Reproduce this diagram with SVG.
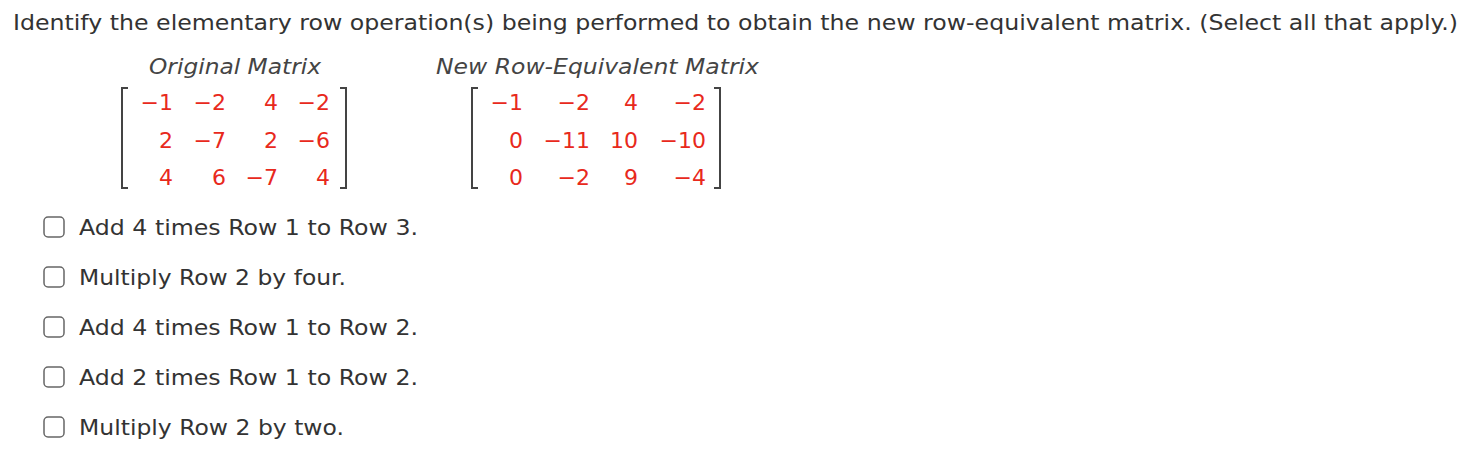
<svg xmlns="http://www.w3.org/2000/svg" width="1484" height="464" viewBox="0 0 1484 464">
<style>
text{font-family:"DejaVu Sans",Verdana,sans-serif;fill:#333}
.t{font-size:22px}
.h{font-size:22px;font-style:italic;fill:#444}
.n{font-size:22px;fill:#e8291c;text-anchor:end}
.br{fill:none;stroke:#444;stroke-width:2}
.cb{fill:#fff;stroke:#666;stroke-width:1.5}
</style>
<rect width="1484" height="464" fill="#fff"/>
<text class="t" x="13" y="30" textLength="1445" lengthAdjust="spacingAndGlyphs">Identify the elementary row operation(s) being performed to obtain the new row-equivalent matrix. (Select all that apply.)</text>
<text class="h" x="149" y="74" textLength="172" lengthAdjust="spacingAndGlyphs">Original Matrix</text>
<text class="h" x="436" y="74" textLength="323" lengthAdjust="spacingAndGlyphs">New Row-Equivalent Matrix</text>
<g id="orig">
<path class="br" d="M128,88 H122 V188 H128"/>
<path class="br" d="M340,88 H346 V188 H340"/>
<text class="n" x="173" y="110">−1</text><text class="n" x="226" y="110">−2</text><text class="n" x="278" y="110">4</text><text class="n" x="330" y="110">−2</text>
<text class="n" x="173" y="148">2</text><text class="n" x="226" y="148">−7</text><text class="n" x="278" y="148">2</text><text class="n" x="330" y="148">−6</text>
<text class="n" x="173" y="185">4</text><text class="n" x="226" y="185">6</text><text class="n" x="278" y="185">−7</text><text class="n" x="330" y="185">4</text>
</g>
<g id="new">
<path class="br" d="M478,88 H472 V188 H478"/>
<path class="br" d="M714,88 H720 V188 H714"/>
<text class="n" x="523" y="110">−1</text><text class="n" x="590" y="110">−2</text><text class="n" x="638" y="110">4</text><text class="n" x="706" y="110">−2</text>
<text class="n" x="523" y="148">0</text><text class="n" x="590" y="148">−11</text><text class="n" x="638" y="148">10</text><text class="n" x="706" y="148">−10</text>
<text class="n" x="523" y="185">0</text><text class="n" x="590" y="185">−2</text><text class="n" x="638" y="185">9</text><text class="n" x="706" y="185">−4</text>
</g>
<g id="opt1"><rect class="cb" x="44" y="217" width="20" height="20" rx="4"/><text class="t" x="79" y="235" textLength="339" lengthAdjust="spacingAndGlyphs">Add 4 times Row 1 to Row 3.</text></g>
<g id="opt2"><rect class="cb" x="44" y="267" width="20" height="20" rx="4"/><text class="t" x="79" y="285" textLength="267" lengthAdjust="spacingAndGlyphs">Multiply Row 2 by four.</text></g>
<g id="opt3"><rect class="cb" x="44" y="317" width="20" height="20" rx="4"/><text class="t" x="79" y="335" textLength="339" lengthAdjust="spacingAndGlyphs">Add 4 times Row 1 to Row 2.</text></g>
<g id="opt4"><rect class="cb" x="44" y="367" width="20" height="20" rx="4"/><text class="t" x="79" y="385" textLength="339" lengthAdjust="spacingAndGlyphs">Add 2 times Row 1 to Row 2.</text></g>
<g id="opt5"><rect class="cb" x="44" y="417" width="20" height="20" rx="4"/><text class="t" x="79" y="435" textLength="265" lengthAdjust="spacingAndGlyphs">Multiply Row 2 by two.</text></g>
</svg>
